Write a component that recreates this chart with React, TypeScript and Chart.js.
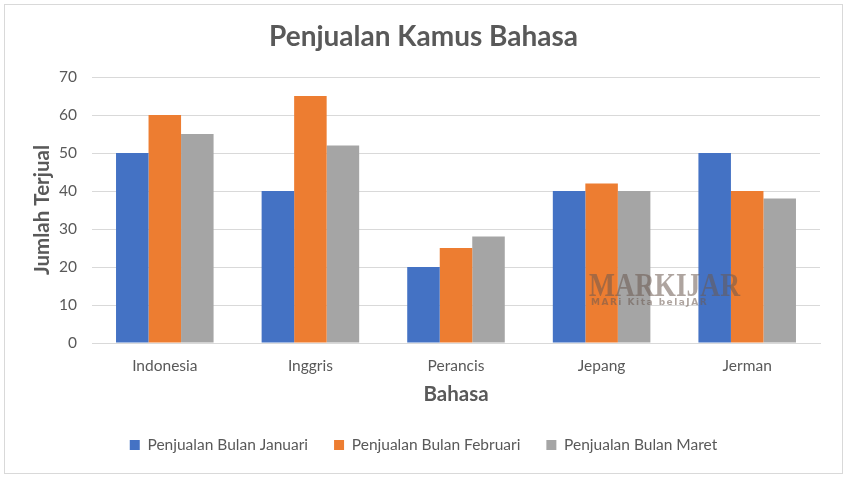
import React, { useEffect, useRef } from "react";
import { Chart, registerables } from "chart.js";

Chart.register(...registerables);

const categories = ["Indonesia", "Inggris", "Perancis", "Jepang", "Jerman"];
const januari = [50, 40, 20, 40, 50];
const februari = [60, 65, 25, 42, 40];
const maret = [55, 52, 28, 40, 38];
const seriesLabels = [
  "Penjualan Bulan Januari",
  "Penjualan Bulan Februari",
  "Penjualan Bulan Maret",
];

const TEXT = "#595959";
const GRID = "#d9d9d9";
const FONT = "Lato";

// white background, outer frame and the watermark text
const framePlugin = {
  id: "frame",
  beforeDraw(chart: any) {
    const { ctx, width, height } = chart;
    ctx.save();
    ctx.fillStyle = "#ffffff";
    ctx.fillRect(0, 0, width, height);
    ctx.strokeStyle = GRID;
    ctx.lineWidth = 1;
    ctx.strokeRect(4.5, 4.5, 838, 469);
    ctx.restore();
  },
  afterDatasetsDraw(chart: any) {
    const { ctx } = chart;
    ctx.save();
    ctx.globalAlpha = 0.55;
    ctx.fillStyle = "#6b5a50";
    ctx.font = "bold 34px 'Liberation Serif'";
    ctx.textBaseline = "alphabetic";
    ctx.textAlign = "left";
    ctx.fillText("MARKIJAR", 589, 296, 151);
    ctx.font = "bold 9px 'DejaVu Sans'";
    (ctx as any).letterSpacing = "1.5px";
    ctx.fillText("MARi Kita belaJAR", 591, 305, 146);
    ctx.restore();
  },
};

export default function App() {
  const canvasRef = useRef<HTMLCanvasElement>(null);

  useEffect(() => {
    if (!canvasRef.current) return;
    const chart = new Chart(canvasRef.current, {
      type: "bar",
      data: {
        labels: categories,
        datasets: [
          { label: seriesLabels[0], data: januari, backgroundColor: "#4472c4" },
          { label: seriesLabels[1], data: februari, backgroundColor: "#ed7d31" },
          { label: seriesLabels[2], data: maret, backgroundColor: "#a5a5a5" },
        ],
      },
      options: {
        responsive: false,
        animation: false,
        datasets: {
          bar: { categoryPercentage: 0.67, barPercentage: 1 },
        },
        layout: { padding: { left: 27, right: 27, top: 0, bottom: 17.25 } },
        plugins: {
          title: {
            display: true,
            text: "Penjualan Kamus Bahasa",
            color: TEXT,
            font: { family: FONT, size: 28, weight: "bold" },
            padding: { top: 20.2, bottom: 23.2 },
          },
          legend: {
            position: "bottom",
            labels: {
              color: TEXT,
              boxWidth: 10,
              boxHeight: 10,
              padding: 26,
              font: { family: FONT, size: 15.5 },
            },
          },
          tooltip: { enabled: false },
        },
        scales: {
          x: {
            grid: { display: false },
            border: { display: true, color: GRID },
            ticks: { color: TEXT, padding: 6, font: { family: FONT, size: 15.5 } },
            title: {
              display: true,
              text: "Bahasa",
              color: TEXT,
              font: { family: FONT, size: 20.5, weight: "bold" },
              padding: { top: 0, bottom: 5 },
            },
            afterFit: (scale: any) => {
              scale.height = 68.25;
            },
          },
          y: {
            min: 0,
            max: 70,
            ticks: {
              stepSize: 10,
              color: TEXT,
              padding: 15,
              font: { family: FONT, size: 15.5 },
            },
            grid: { color: GRID, drawTicks: false },
            border: { display: false },
            title: {
              display: true,
              text: "Jumlah Terjual",
              color: TEXT,
              font: { family: FONT, size: 20.5, weight: "bold" },
              padding: { top: 2.7, bottom: 0 },
            },
            afterFit: (scale: any) => {
              scale.width = 65;
            },
          },
        },
      },
      plugins: [framePlugin],
    });
    return () => chart.destroy();
  }, []);

  return (
    <div
      style={{
        position: "fixed",
        left: 0,
        top: 0,
        width: 847,
        height: 480,
        background: "#fff",
      }}
    >
      <canvas ref={canvasRef} width={847} height={480} />
    </div>
  );
}
